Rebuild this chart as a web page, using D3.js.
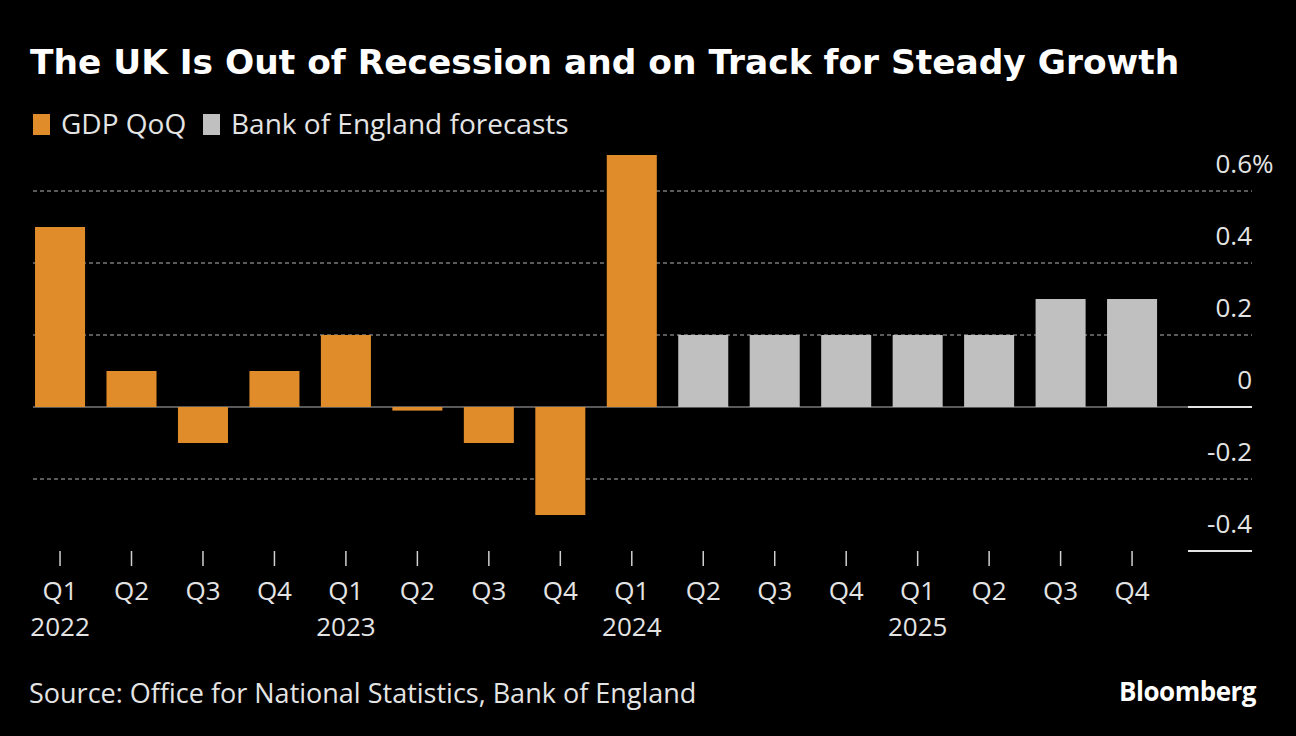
<!DOCTYPE html>
<html>
<head>
<meta charset="utf-8">
<script src="https://cdn.jsdelivr.net/npm/d3@7"></script>
<style>
  body { margin: 0; background: #000; }
  svg text { fill: #e4e4e4; }
</style>
</head>
<body>
<svg id="chart"></svg>
<script>
// data
var quarters = ["Q1","Q2","Q3","Q4","Q1","Q2","Q3","Q4","Q1","Q2","Q3","Q4","Q1","Q2","Q3","Q4"];
var years = ["2022","","","","2023","","","","2024","","","","2025","","",""];
var gdpQoQ = [0.5, 0.1, -0.1, 0.1, 0.2, -0.01, -0.1, -0.3, 0.7, null, null, null, null, null, null, null];
var boeForecasts = [null, null, null, null, null, null, null, null, null, 0.2, 0.2, 0.2, 0.2, 0.2, 0.3, 0.3];
var yTicks = [-0.4, -0.2, 0, 0.2, 0.4, 0.6];

var width = 1296, height = 736;
var font = "'Open Sans', sans-serif";

var svg = d3.select("#chart").attr("width", width).attr("height", height);
svg.append("rect").attr("width", width).attr("height", height).attr("fill", "#000");

var idx = d3.range(quarters.length);
var x = d3.scaleBand().domain(idx).range([24.3, 1167.8]).paddingInner(0.3).paddingOuter(0.15);
var y = d3.scaleLinear().domain([-0.4, 0.6]).range([551, 191]);

// title
svg.append("text")
    .attr("x", 30).attr("y", 74)
    .style("font-family", "'DejaVu Sans', sans-serif")
    .style("font-weight", "bold")
    .style("font-size", "34.4px")
    .style("fill", "#fff")
    .text("The UK Is Out of Recession and on Track for Steady Growth");

// legend
var legend = svg.append("g").style("font-family", font).style("font-size", "28px");
legend.append("rect").attr("x", 33).attr("y", 114).attr("width", 17).attr("height", 21).attr("fill", "#e08c2a");
legend.append("text").attr("x", 61).attr("y", 134).text("GDP QoQ");
legend.append("rect").attr("x", 203).attr("y", 114).attr("width", 17).attr("height", 21).attr("fill", "#c0c0c0");
legend.append("text").attr("x", 231).attr("y", 134).text("Bank of England forecasts");

// grid lines
svg.append("g").selectAll("line")
    .data(yTicks.filter(function(d){ return d !== 0 && d !== -0.4; }))
    .enter().append("line")
    .attr("x1", 33).attr("x2", 1252)
    .attr("y1", function(d){ return y(d); }).attr("y2", function(d){ return y(d); })
    .attr("stroke", "#7a7a7a").attr("stroke-width", 1.5)
    .attr("stroke-dasharray", "4,3");

// zero line
svg.append("line")
    .attr("x1", 33).attr("x2", 1252).attr("y1", y(0)).attr("y2", y(0))
    .attr("stroke", "#777").attr("stroke-width", 1.5);

// bars
svg.append("g").selectAll("rect")
    .data(idx.filter(function(i){ return gdpQoQ[i] !== null; }))
    .enter().append("rect")
    .attr("x", function(i){ return x(i); })
    .attr("width", x.bandwidth())
    .attr("y", function(i){ return y(Math.max(0, gdpQoQ[i])); })
    .attr("height", function(i){ return Math.abs(y(gdpQoQ[i]) - y(0)); })
    .attr("fill", "#e08c2a");

svg.append("g").selectAll("rect")
    .data(idx.filter(function(i){ return boeForecasts[i] !== null; }))
    .enter().append("rect")
    .attr("x", function(i){ return x(i); })
    .attr("width", x.bandwidth())
    .attr("y", function(i){ return y(Math.max(0, boeForecasts[i])); })
    .attr("height", function(i){ return Math.abs(y(boeForecasts[i]) - y(0)); })
    .attr("fill", "#c0c0c0");

// right axis marks
svg.append("line").attr("x1", 1188).attr("x2", 1252).attr("y1", y(0)).attr("y2", y(0))
    .attr("stroke", "#e4e4e4").attr("stroke-width", 2);
svg.append("line").attr("x1", 1188).attr("x2", 1252).attr("y1", y(-0.4)).attr("y2", y(-0.4))
    .attr("stroke", "#e4e4e4").attr("stroke-width", 2);

// y labels
var yl = svg.append("g").style("font-family", font).style("font-size", "26px");
yl.selectAll("text").data(yTicks).enter().append("text")
    .attr("x", 1252)
    .attr("y", function(d){ return y(d) - 18; })
    .attr("text-anchor", "end")
    .text(function(d){ return d === 0 ? "0" : d3.format(".1f")(d).replace("−", "-"); });
yl.append("text").attr("x", 1252).attr("y", y(0.6) - 18).text("%");

// x ticks
var xa = svg.append("g").style("font-family", font).style("font-size", "26px");
xa.selectAll("line").data(idx).enter().append("line")
    .attr("x1", function(i){ return x(i) + x.bandwidth() / 2; })
    .attr("x2", function(i){ return x(i) + x.bandwidth() / 2; })
    .attr("y1", 551).attr("y2", 566)
    .attr("stroke", "#d0d0d0").attr("stroke-width", 1.5);
xa.selectAll("text.q").data(idx).enter().append("text")
    .attr("class", "q")
    .attr("x", function(i){ return x(i) + x.bandwidth() / 2; })
    .attr("y", 600)
    .attr("text-anchor", "middle")
    .text(function(i){ return quarters[i]; });
xa.selectAll("text.yr").data(idx.filter(function(i){ return years[i]; })).enter().append("text")
    .attr("class", "yr")
    .attr("x", function(i){ return x(i) + x.bandwidth() / 2; })
    .attr("y", 636)
    .attr("text-anchor", "middle")
    .text(function(i){ return years[i]; });

// footer
svg.append("text").attr("x", 29).attr("y", 703)
    .style("font-family", font).style("font-size", "27px")
    .text("Source: Office for National Statistics, Bank of England");
svg.append("text").attr("x", 1256).attr("y", 701)
    .attr("text-anchor", "end")
    .style("font-family", "'Open Sans', sans-serif").style("font-weight", "bold")
    .style("font-size", "26px").style("letter-spacing", "-0.5px").style("fill", "#fff")
    .text("Bloomberg");
</script>
</body>
</html>
